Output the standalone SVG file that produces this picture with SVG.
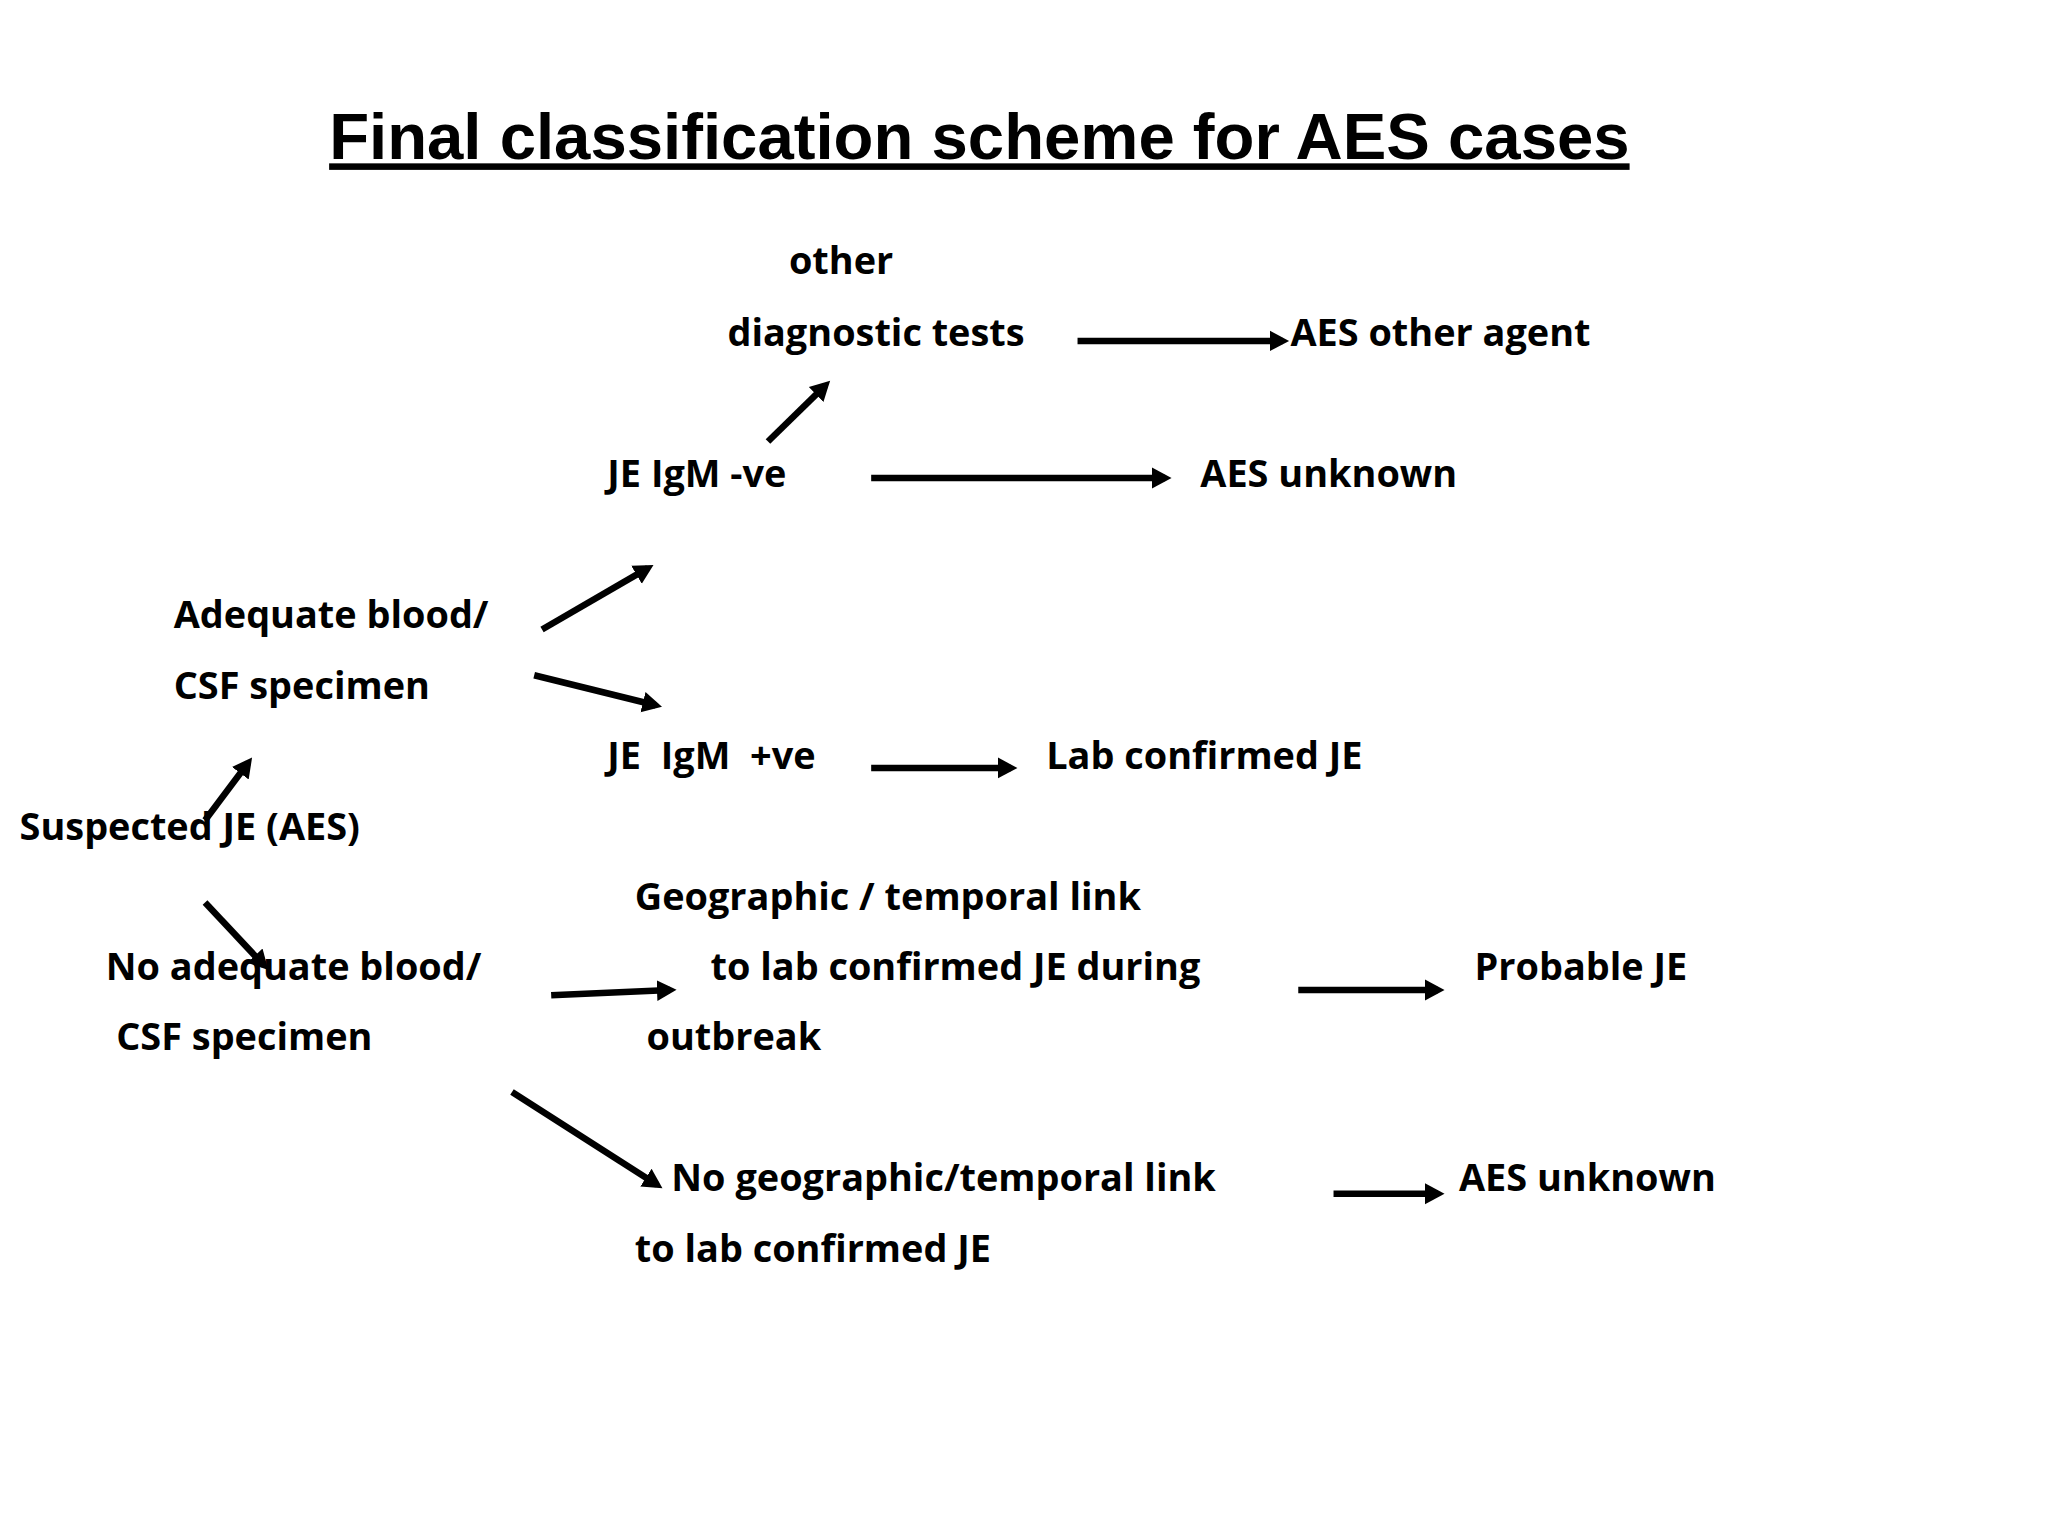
<svg xmlns="http://www.w3.org/2000/svg" width="2048" height="1536" viewBox="0 0 2048 1536">
<defs>
<marker id="ah" markerWidth="4" markerHeight="4" refX="2" refY="2" orient="auto" markerUnits="strokeWidth"><path d="M0,0.4 L3,2 L0,3.6 Z" fill="#000"/></marker>
<style>
.t{font-family:"Open Sans","Liberation Sans",sans-serif;font-weight:bold;font-size:29px;fill:#000}
.ti{font-family:"Liberation Sans",Arial,sans-serif;font-weight:bold;font-size:50px;fill:#000;text-decoration:underline}
.c line{stroke:#000;stroke-width:5;marker-end:url(#ah)}
</style>
</defs>
<rect width="2048" height="1536" fill="#fff"/>
<g transform="scale(1.3061)">
<text class="ti" x="252" y="122">Final classification scheme for AES cases</text>
<g id="n1"><text class="t" x="604" y="210">other</text><text class="t" x="557" y="265">diagnostic tests</text></g>
<g id="n2"><text class="t" x="988" y="265">AES other agent</text></g>
<g id="n3"><text class="t" x="465" y="373">JE IgM  -ve</text></g>
<g id="n4"><text class="t" x="919" y="373">AES unknown</text></g>
<g id="n5"><text class="t" x="133" y="481">Adequate blood/</text><text class="t" x="133" y="535">CSF specimen</text></g>
<g id="n6"><text class="t" x="465" y="589" xml:space="preserve">JE  IgM  +ve</text></g>
<g id="n7"><text class="t" x="801" y="589">Lab confirmed JE</text></g>
<g id="n8"><text class="t" x="15" y="643">Suspected JE (AES)</text></g>
<g id="n9"><text class="t" x="486" y="697">Geographic / temporal link</text><text class="t" x="544" y="750">to lab confirmed JE during</text><text class="t" x="495" y="804">outbreak</text></g>
<g id="n10"><text class="t" x="81" y="750">No adequate blood/</text><text class="t" x="89" y="804">CSF specimen</text></g>
<g id="n11"><text class="t" x="1129" y="750">Probable JE</text></g>
<g id="n12"><text class="t" x="514" y="912">No geographic/temporal link</text><text class="t" x="486" y="966">to lab confirmed JE</text></g>
<g id="n13"><text class="t" x="1117" y="912">AES unknown</text></g>
<g class="c" id="connectors">
<line x1="588" y1="338" x2="632" y2="295"/>
<line x1="825" y1="261" x2="982" y2="261"/>
<line x1="667" y1="366" x2="892" y2="366"/>
<line x1="415" y1="482" x2="496" y2="435"/>
<line x1="409" y1="517" x2="502" y2="540"/>
<line x1="667" y1="588" x2="774" y2="588"/>
<line x1="157" y1="628" x2="190" y2="584"/>
<line x1="157" y1="691" x2="202" y2="739"/>
<line x1="422" y1="762" x2="513" y2="758"/>
<line x1="994" y1="758" x2="1101" y2="758"/>
<line x1="392" y1="836" x2="503" y2="907"/>
<line x1="1021" y1="914" x2="1101" y2="914"/>
</g>
</g>
</svg>
